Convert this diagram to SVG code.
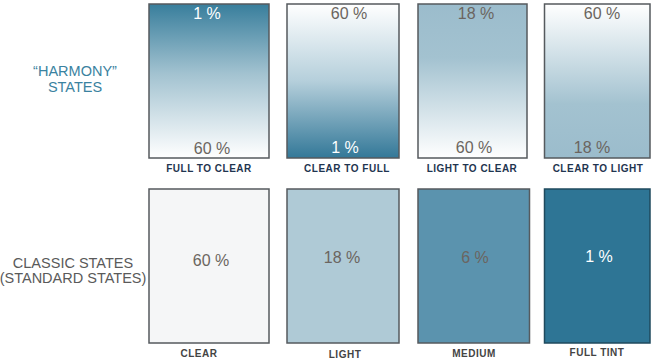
<svg xmlns="http://www.w3.org/2000/svg" width="661" height="362" viewBox="0 0 661 362">
<defs>
<linearGradient id="gFullClear" x1="0" y1="0" x2="0" y2="1">
<stop offset="0" stop-color="#387e9c"/>
<stop offset="0.45" stop-color="#a2c2d0"/>
<stop offset="1" stop-color="#ffffff"/>
</linearGradient>
<linearGradient id="gClearFull" x1="0" y1="0" x2="0" y2="1">
<stop offset="0" stop-color="#ffffff"/>
<stop offset="0.5" stop-color="#b5cfdb"/>
<stop offset="1" stop-color="#337898"/>
</linearGradient>
<linearGradient id="gLightClear" x1="0" y1="0" x2="0" y2="1">
<stop offset="0" stop-color="#9bbccc"/>
<stop offset="0.35" stop-color="#a3c2d0"/>
<stop offset="1" stop-color="#ffffff"/>
</linearGradient>
<linearGradient id="gClearLight" x1="0" y1="0" x2="0" y2="1">
<stop offset="0" stop-color="#ffffff"/>
<stop offset="0.65" stop-color="#a3c2d0"/>
<stop offset="1" stop-color="#9bbccc"/>
</linearGradient>
</defs>
<style>
.box{stroke:#555a5e;stroke-width:1.5}
.pct{font-family:"Liberation Sans",Arial,sans-serif;font-size:16px;text-anchor:middle;fill:#6b6560}
.pw{fill:#ffffff}
.cap{font-family:"Liberation Sans",Arial,sans-serif;font-size:10px;font-weight:bold;text-anchor:middle;letter-spacing:0.5px}
.capH{fill:#1f3550}
.capC{fill:#444444}
.side{font-family:"Liberation Sans",Arial,sans-serif;font-size:14.5px;text-anchor:middle}
</style>
<rect width="661" height="362" fill="#ffffff"/>
<g id="label-harmony">
<text class="side" x="75" y="76" fill="#3a82a0">“HARMONY”</text>
<text class="side" x="75" y="92" fill="#3a82a0">STATES</text>
</g>
<g id="label-classic">
<text class="side" x="73" y="268" fill="#5a5a5a">CLASSIC STATES</text>
<text class="side" x="73" y="283" fill="#5a5a5a">(STANDARD STATES)</text>
</g>
<g id="full-to-clear">
<rect class="box" x="149" y="4" width="120" height="154" fill="url(#gFullClear)"/>
<text class="pct pw" x="207" y="19">1 %</text>
<text class="pct" x="212" y="154">60 %</text>
<text class="cap capH" x="209" y="172">FULL TO CLEAR</text>
</g>
<g id="clear-to-full">
<rect class="box" x="287" y="4" width="112" height="154" fill="url(#gClearFull)"/>
<text class="pct" x="349" y="19">60 %</text>
<text class="pct pw" x="345" y="153">1 %</text>
<text class="cap capH" x="347" y="172">CLEAR TO FULL</text>
</g>
<g id="light-to-clear">
<rect class="box" x="418" y="4" width="109" height="154" fill="url(#gLightClear)"/>
<text class="pct" x="476" y="19">18 %</text>
<text class="pct" x="474" y="153">60 %</text>
<text class="cap capH" x="472" y="172">LIGHT TO CLEAR</text>
</g>
<g id="clear-to-light">
<rect class="box" x="544.5" y="4" width="105.5" height="154" fill="url(#gClearLight)"/>
<text class="pct" x="602" y="19">60 %</text>
<text class="pct" x="592" y="153">18 %</text>
<text class="cap capH" x="598" y="172">CLEAR TO LIGHT</text>
</g>
<g id="clear">
<rect class="box" x="149" y="189" width="120" height="154" fill="#f5f6f7"/>
<text class="pct" x="211" y="266">60 %</text>
<text class="cap capC" x="199" y="357">CLEAR</text>
</g>
<g id="light">
<rect class="box" x="287" y="189" width="112" height="154" fill="#afcad6"/>
<text class="pct" x="342" y="263">18 %</text>
<text class="cap capC" x="345" y="358">LIGHT</text>
</g>
<g id="medium">
<rect class="box" x="418" y="189" width="111.5" height="154" fill="#5b93ae"/>
<text class="pct" x="475" y="263">6 %</text>
<text class="cap capC" x="474" y="357">MEDIUM</text>
</g>
<g id="full-tint">
<rect x="544.5" y="189" width="105.5" height="154" fill="#2e7595" stroke="#1f4a5e" stroke-width="1.5"/>
<text class="pct pw" x="599" y="262">1 %</text>
<text class="cap capC" x="597" y="356">FULL TINT</text>
</g>
<g id="connectors"/>
</svg>
